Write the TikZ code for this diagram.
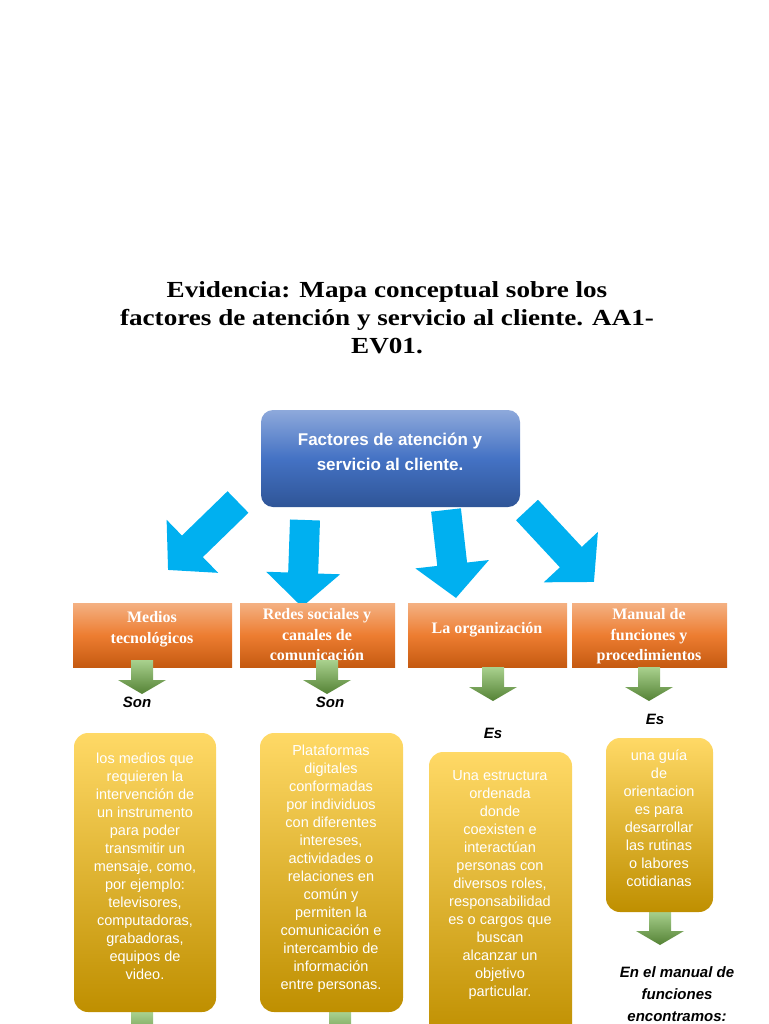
\documentclass[tikz,border=0pt]{standalone}
\usepackage{fontspec}
\setmainfont{Liberation Serif}
\newfontfamily\sansf{Liberation Sans}
\newfontfamily\titlef[FakeStretch=1.18]{Liberation Serif}
\usetikzlibrary{arrows.meta}
\definecolor{cyanA}{HTML}{00B0F0}
\definecolor{gTop}{HTML}{A9D18E}
\definecolor{gBot}{HTML}{548235}
\definecolor{oTop}{HTML}{F4B183}
\definecolor{oMid}{HTML}{ED7D31}
\definecolor{oBot}{HTML}{C55A11}
\definecolor{yTop}{HTML}{FFD966}
\definecolor{yMid}{HTML}{FFC000}
\definecolor{yBot}{HTML}{BF8F00}
\definecolor{bTop}{HTML}{8EA9DB}
\definecolor{bMid}{HTML}{4472C4}
\definecolor{bBot}{HTML}{2F5597}
\newcommand{\garrow}[2]{\shade[top color=gTop,bottom color=gBot] (#1-11,#2) -- (#1+11,#2) -- (#1+11,#2+20) -- (#1+24,#2+20) -- (#1,#2+34) -- (#1-24,#2+20) -- (#1-11,#2+20) -- cycle;}
\tikzset{
 x=1pt,y=-1pt,
 bluearrow/.style={cyanA,line width=30pt,-{Triangle[width=72pt,length=34pt]}},
 otext/.style={text=white,font=\bfseries\fontsize{16}{20.5}\selectfont,align=center,anchor=north},
 ytext/.style={text=white,font=\sansf\fontsize{14.5}{18}\selectfont,align=center},
 lbl/.style={font=\sansf\bfseries\itshape\fontsize{15}{22}\selectfont,align=center}
}
\begin{document}
\begin{tikzpicture}
\useasboundingbox (0,0) rectangle (768,1024);
\node[font=\titlef\bfseries\fontsize{23}{28}\selectfont,align=center] (title) at (387,318) {Evidencia: Mapa conceptual sobre los\\factores de atención y servicio al cliente. AA1-\\EV01.};
\shade[rounded corners=12pt,top color=bTop,bottom color=bBot,middle color=bMid] (261,410) rectangle (520,507);
\node[text=white,font=\sansf\bfseries\fontsize{17}{25}\selectfont,align=center] (top) at (390,452) {Factores de atención y\\servicio al cliente.};
% blue arrows
\coordinate (s1) at (238,502); \coordinate (t1) at (168,570);
\coordinate (s2) at (305,520); \coordinate (t2) at (302,607);
\coordinate (s3) at (446,510); \coordinate (t3) at (456,598);
\coordinate (s4) at (527,510); \coordinate (t4) at (594,582);
\draw[bluearrow] (s1) -- (t1);
\draw[bluearrow] (s2) -- (t2);
\draw[bluearrow] (s3) -- (t3);
\draw[bluearrow] (s4) -- (t4);
% orange boxes
\begin{scope}
\clip (73,603) rectangle (232,667);
\shade[top color=oTop,bottom color=oBot,middle color=oMid] (73,603) rectangle (232,667);
\node[otext] (o1) at (152,608) {Medios\\tecnológicos};
\end{scope}
\begin{scope}
\clip (240,603) rectangle (395,667);
\shade[top color=oTop,bottom color=oBot,middle color=oMid] (240,603) rectangle (395,667);
\node[otext] (o2) at (317,605) {Redes sociales y\\canales de\\comunicación};
\end{scope}
\begin{scope}
\clip (408,603) rectangle (567,667);
\shade[top color=oTop,bottom color=oBot,middle color=oMid] (408,603) rectangle (567,667);
\node[otext] (o3) at (487,619) {La organización};
\end{scope}
\begin{scope}
\clip (572,603) rectangle (727,667);
\shade[top color=oTop,bottom color=oBot,middle color=oMid] (572,603) rectangle (727,667);
\node[otext] (o4) at (649,605) {Manual de\\funciones y\\procedimientos};
\end{scope}
% green arrows
\garrow{142}{660}
\garrow{327}{660}
\garrow{493}{667}
\garrow{649}{667}
\garrow{660}{911}
\garrow{142}{1012}
\garrow{340}{1012}
% labels
\node[lbl] (son1) at (137,702) {Son};
\node[lbl] (son2) at (330,702) {Son};
\node[lbl] (es1) at (493,733) {Es};
\node[lbl] (es2) at (655,719) {Es};
\node[lbl] (enc) at (677,994) {En el manual de\\funciones\\encontramos:};
% yellow boxes
\shade[rounded corners=14pt,top color=yTop,middle color=yMid,bottom color=yBot] (74,733) rectangle (216,1012);
\node[ytext] (y1) at (145,866) {los medios que\\requieren la\\intervención de\\un instrumento\\para poder\\transmitir un\\mensaje, como,\\por ejemplo:\\televisores,\\computadoras,\\grabadoras,\\equipos de\\video.};
\shade[rounded corners=14pt,top color=yTop,middle color=yMid,bottom color=yBot] (260,733) rectangle (403,1012);
\node[ytext] (y2) at (331,869) {Plataformas\\digitales\\conformadas\\por individuos\\con diferentes\\intereses,\\actividades o\\relaciones en\\común y\\permiten la\\comunicación e\\intercambio de\\información\\entre personas.};
\shade[rounded corners=14pt,top color=yTop,middle color=yMid,bottom color=yBot] (429,752) rectangle (572,1040);
\node[ytext] (y3) at (500,885) {Una estructura\\ordenada\\donde\\coexisten e\\interactúan\\personas con\\diversos roles,\\responsabilidad\\es o cargos que\\buscan\\alcanzar un\\objetivo\\particular.};
\shade[rounded corners=14pt,top color=yTop,middle color=yMid,bottom color=yBot] (606,738) rectangle (713,912);
\node[ytext] (y4) at (659,818) {una guía\\de\\orientacion\\es para\\desarrollar\\las rutinas\\o labores\\cotidianas};
\end{tikzpicture}
\end{document}
